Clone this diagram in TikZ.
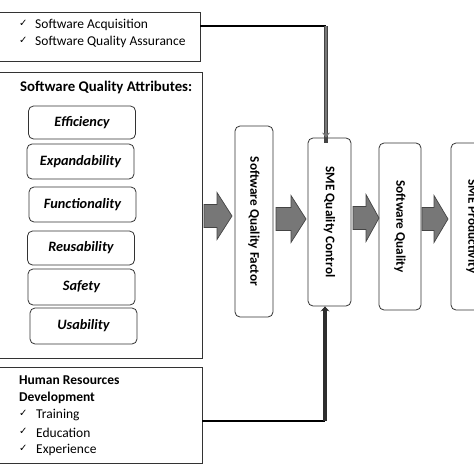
\documentclass[tikz,border=0pt]{standalone}
\usepackage{fontspec}
\setmainfont{Carlito}
\newfontfamily\dejavu{DejaVu Sans}
\usetikzlibrary{arrows.meta}
\definecolor{edge}{HTML}{333333}
\definecolor{arrowfill}{HTML}{777777}
\definecolor{arrowedge}{HTML}{444444}
\begin{document}
\begin{tikzpicture}[x=1pt,y=-1pt,
  font=\fontsize{13.5}{15}\selectfont,
  outer/.style={draw=edge, line width=0.9pt, fill=white, inner sep=0pt},
  attr/.style={draw=edge, line width=0.8pt, rounded corners=5pt, minimum width=107pt, inner sep=0pt, font=\fontsize{14.3}{16}\selectfont\bfseries\itshape},
  vbox/.style={draw=edge, line width=0.8pt, rounded corners=5pt, rotate=-90, inner sep=0pt, font=\fontsize{13.2}{15}\selectfont\bfseries},
  txt/.style={anchor=west, inner sep=0pt},
  hdr/.style={anchor=west, inner sep=0pt, font=\fontsize{13.5}{15}\selectfont\bfseries},
  chk/.style={anchor=west, inner sep=0pt, font=\dejavu\fontsize{10}{12}\selectfont},
  blockarrow/.style={fill=arrowfill, draw=arrowedge, line width=0.7pt, line join=miter}
]
\clip (0,0) rectangle (474,474);
\fill[white] (0,0) rectangle (474,474);

% top box
\node[outer, minimum width=210pt, minimum height=49pt] (topbox) at (95,36.5) {};
\node[chk] (c1) at (19,23.5) {✓};
\node[txt] (t1) at (35,25) {Software Acquisition};
\node[chk] (c2) at (19,40.5) {✓};
\node[txt] (t2) at (35,42) {Software Quality Assurance};

% attributes box
\node[outer, minimum width=212pt, minimum height=286pt] (attrbox) at (96,215) {};
\node[txt, font=\fontsize{14.8}{16}\selectfont\bfseries] (title) at (20,87) {Software Quality Attributes:};
\node[attr, minimum height=33pt] (eff) at (82,122.5) {Efficiency};
\node[attr, minimum height=35pt] (exp) at (80.5,161.5) {Expandability};
\node[attr, minimum height=35pt] (fun) at (82.5,204.5) {Functionality};
\node[attr, minimum height=34pt] (reu) at (81,248) {Reusability};
\node[attr, minimum height=36pt] (saf) at (81.5,287) {Safety};
\node[attr, minimum height=36pt] (usa) at (83.5,326) {Usability};

% bottom box
\node[outer, minimum width=212pt, minimum height=96pt] (hrbox) at (96,415) {};
\node[hdr] (h1) at (19,380) {Human Resources};
\node[hdr] (h2) at (19,398) {Development};
\node[chk] (c3) at (19,413.5) {✓};
\node[txt] (t3) at (36,415) {Training};
\node[chk] (c4) at (19,431.5) {✓};
\node[txt] (t4) at (36,433) {Education};
\node[chk] (c5) at (19,448.5) {✓};
\node[txt] (t5) at (36,450) {Experience};

% vertical boxes
\node[vbox, minimum width=191pt, minimum height=38pt] (sqf) at (254,221.5) {Software Quality Factor};
\node[vbox, minimum width=168pt, minimum height=43pt] (sqc) at (329.5,222) {SME Quality Control};
\node[vbox, minimum width=167pt, minimum height=42pt] (sq) at (400,226.5) {Software Quality};
\node[vbox, minimum width=167pt, minimum height=42pt] (smep) at (472,226.5) {SME Productivity};

% block arrows
\foreach \xa/\xh/\xt/\yc in {204/217/232/216, 276/291/306/219, 353/366/379/218, 422/434/448/219}{
  \draw[blockarrow] (\xa,\yc-11.5) -- (\xh,\yc-11.5) -- (\xh,\yc-23.5) -- (\xt,\yc)
     -- (\xh,\yc+23.5) -- (\xh,\yc+11.5) -- (\xa,\yc+11.5) -- cycle;
}

% connectors
\coordinate (tl) at (topbox.east |- 0,26);
\coordinate (tc) at (326,26);
\draw[black, line width=1.8pt] (tl) -- (tc);
\draw[arrowedge, line width=4pt] (tc) -- ([yshift=-5pt]tc |- sqc.west);
\draw[arrowfill, line width=2pt, -{Stealth[length=5pt,width=8pt]}] (tc) -- (tc |- sqc.west);

\coordinate (bl) at (hrbox.east |- 0,421);
\coordinate (bc) at (325,421);
\draw[black, line width=2pt] (bl) -- (bc);
\draw[edge!90!black, line width=4.5pt, -{Stealth[length=5pt,width=9pt]}] (bc) -- (bc |- sqc.east);
\end{tikzpicture}
\end{document}
